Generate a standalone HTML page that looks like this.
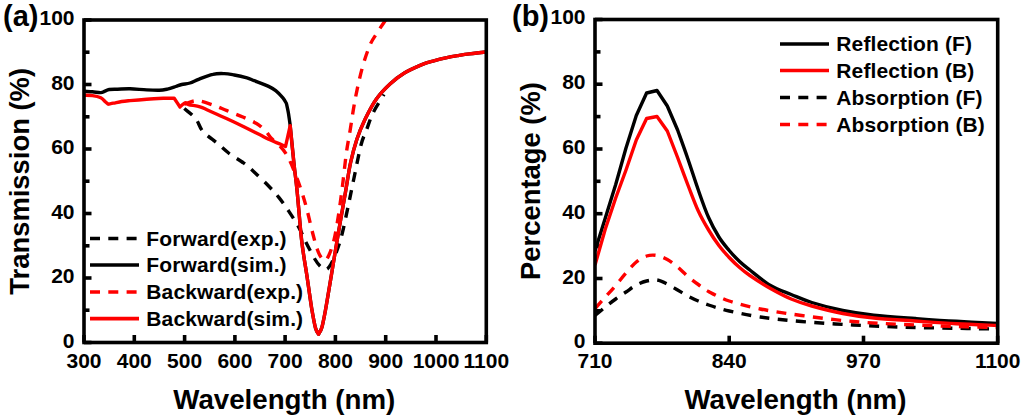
<!DOCTYPE html>
<html><head><meta charset="utf-8"><style>
html,body{margin:0;padding:0;background:#fff;overflow:hidden;}
svg{display:block;}
text{font-family:"Liberation Sans", sans-serif;font-weight:bold;fill:#000;}
</style></head><body>
<svg width="1025" height="420" viewBox="0 0 1025 420">
<defs>
<clipPath id="ca"><rect x="84.0" y="20.0" width="402.3" height="322.5"/></clipPath>
<clipPath id="cb"><rect x="595.0" y="19.5" width="402.7" height="323.7"/></clipPath>
</defs>
<line x1="84.0" y1="342.5" x2="91.5" y2="342.5" stroke="#000" stroke-width="3.6"/>
<text x="74.5" y="347.5" font-size="21" text-anchor="end">0</text>
<line x1="84.0" y1="310.2" x2="89.5" y2="310.2" stroke="#000" stroke-width="3.6"/>
<line x1="84.0" y1="278.0" x2="91.5" y2="278.0" stroke="#000" stroke-width="3.6"/>
<text x="74.5" y="283.0" font-size="21" text-anchor="end">20</text>
<line x1="84.0" y1="245.8" x2="89.5" y2="245.8" stroke="#000" stroke-width="3.6"/>
<line x1="84.0" y1="213.5" x2="91.5" y2="213.5" stroke="#000" stroke-width="3.6"/>
<text x="74.5" y="218.5" font-size="21" text-anchor="end">40</text>
<line x1="84.0" y1="181.2" x2="89.5" y2="181.2" stroke="#000" stroke-width="3.6"/>
<line x1="84.0" y1="149.0" x2="91.5" y2="149.0" stroke="#000" stroke-width="3.6"/>
<text x="74.5" y="154.0" font-size="21" text-anchor="end">60</text>
<line x1="84.0" y1="116.8" x2="89.5" y2="116.8" stroke="#000" stroke-width="3.6"/>
<line x1="84.0" y1="84.5" x2="91.5" y2="84.5" stroke="#000" stroke-width="3.6"/>
<text x="74.5" y="89.5" font-size="21" text-anchor="end">80</text>
<line x1="84.0" y1="52.2" x2="89.5" y2="52.2" stroke="#000" stroke-width="3.6"/>
<line x1="84.0" y1="20.0" x2="91.5" y2="20.0" stroke="#000" stroke-width="3.6"/>
<text x="74.5" y="24.5" font-size="21" text-anchor="end">100</text>
<line x1="84.0" y1="342.5" x2="84.0" y2="335.0" stroke="#000" stroke-width="3.6"/>
<text x="84.0" y="367.5" font-size="21" text-anchor="middle">300</text>
<line x1="134.3" y1="342.5" x2="134.3" y2="335.0" stroke="#000" stroke-width="3.6"/>
<text x="134.3" y="367.5" font-size="21" text-anchor="middle">400</text>
<line x1="184.6" y1="342.5" x2="184.6" y2="335.0" stroke="#000" stroke-width="3.6"/>
<text x="184.6" y="367.5" font-size="21" text-anchor="middle">500</text>
<line x1="234.9" y1="342.5" x2="234.9" y2="335.0" stroke="#000" stroke-width="3.6"/>
<text x="234.9" y="367.5" font-size="21" text-anchor="middle">600</text>
<line x1="285.1" y1="342.5" x2="285.1" y2="335.0" stroke="#000" stroke-width="3.6"/>
<text x="285.1" y="367.5" font-size="21" text-anchor="middle">700</text>
<line x1="335.4" y1="342.5" x2="335.4" y2="335.0" stroke="#000" stroke-width="3.6"/>
<text x="335.4" y="367.5" font-size="21" text-anchor="middle">800</text>
<line x1="385.7" y1="342.5" x2="385.7" y2="335.0" stroke="#000" stroke-width="3.6"/>
<text x="385.7" y="367.5" font-size="21" text-anchor="middle">900</text>
<line x1="436.0" y1="342.5" x2="436.0" y2="335.0" stroke="#000" stroke-width="3.6"/>
<text x="436.0" y="367.5" font-size="21" text-anchor="middle">1000</text>
<line x1="486.3" y1="342.5" x2="486.3" y2="335.0" stroke="#000" stroke-width="3.6"/>
<text x="486.3" y="367.5" font-size="21" text-anchor="middle">1100</text>
<line x1="595.0" y1="343.2" x2="602.5" y2="343.2" stroke="#000" stroke-width="3.6"/>
<text x="585.5" y="348.2" font-size="21" text-anchor="end">0</text>
<line x1="595.0" y1="310.8" x2="600.5" y2="310.8" stroke="#000" stroke-width="3.6"/>
<line x1="595.0" y1="278.5" x2="602.5" y2="278.5" stroke="#000" stroke-width="3.6"/>
<text x="585.5" y="283.5" font-size="21" text-anchor="end">20</text>
<line x1="595.0" y1="246.1" x2="600.5" y2="246.1" stroke="#000" stroke-width="3.6"/>
<line x1="595.0" y1="213.7" x2="602.5" y2="213.7" stroke="#000" stroke-width="3.6"/>
<text x="585.5" y="218.7" font-size="21" text-anchor="end">40</text>
<line x1="595.0" y1="181.3" x2="600.5" y2="181.3" stroke="#000" stroke-width="3.6"/>
<line x1="595.0" y1="149.0" x2="602.5" y2="149.0" stroke="#000" stroke-width="3.6"/>
<text x="585.5" y="154.0" font-size="21" text-anchor="end">60</text>
<line x1="595.0" y1="116.6" x2="600.5" y2="116.6" stroke="#000" stroke-width="3.6"/>
<line x1="595.0" y1="84.2" x2="602.5" y2="84.2" stroke="#000" stroke-width="3.6"/>
<text x="585.5" y="89.2" font-size="21" text-anchor="end">80</text>
<line x1="595.0" y1="51.9" x2="600.5" y2="51.9" stroke="#000" stroke-width="3.6"/>
<line x1="595.0" y1="19.5" x2="602.5" y2="19.5" stroke="#000" stroke-width="3.6"/>
<text x="585.5" y="24.0" font-size="21" text-anchor="end">100</text>
<line x1="595.0" y1="343.2" x2="595.0" y2="335.7" stroke="#000" stroke-width="3.6"/>
<text x="595.0" y="368.2" font-size="21" text-anchor="middle">710</text>
<line x1="729.2" y1="343.2" x2="729.2" y2="335.7" stroke="#000" stroke-width="3.6"/>
<text x="729.2" y="368.2" font-size="21" text-anchor="middle">840</text>
<line x1="863.5" y1="343.2" x2="863.5" y2="335.7" stroke="#000" stroke-width="3.6"/>
<text x="863.5" y="368.2" font-size="21" text-anchor="middle">970</text>
<line x1="997.7" y1="343.2" x2="997.7" y2="335.7" stroke="#000" stroke-width="3.6"/>
<text x="997.7" y="368.2" font-size="21" text-anchor="middle">1100</text>
<path d="M184.3,108.6C186.2,110.3 192.6,114.8 195.7,118.6C198.8,122.4 199.3,127.3 202.9,131.4C206.5,135.5 212.7,139.4 217,143C221.3,146.6 224.5,149.9 228.6,153C232.7,156.1 238.3,159.4 241.4,161.5C244.5,163.6 244.6,163.5 247,165.5C249.4,167.5 252.1,170.1 255.7,173.5C259.3,176.9 264.8,182.1 268.6,186C272.4,189.9 275.4,193.1 278.6,197.1C281.8,201.1 284.7,205 288,210C291.3,215 295.5,221.3 298.6,227C301.7,232.7 304.1,238.7 306.8,244C309.5,249.3 312.6,255.3 314.8,259C317,262.7 318.1,264.2 320,266C321.9,267.8 324.2,269.8 326,269.5C327.8,269.2 329.2,267.1 331,264C332.8,260.9 335,255.9 336.8,251C338.6,246.1 340.1,241.6 342,234.3C343.9,227 346,216.4 348,207C350,197.6 351.8,188.3 354,178C356.2,167.7 358.9,153 361,145C363.1,137 364.5,135.3 366.5,130C368.5,124.7 370.1,118.9 373,113C375.9,107.1 382.2,97.6 384,94.5" fill="none" stroke="#000" stroke-width="3.4" stroke-linejoin="round" stroke-dasharray="10 8.3" clip-path="url(#ca)"/>
<path d="M84,91.3C85.4,91.4 89.7,91.6 92.5,91.8C95.3,92 98.7,92.7 100.8,92.6C102.9,92.5 103.6,91.6 105,91.1C106.4,90.6 107.1,89.8 109.2,89.5C111.3,89.2 114,89.3 117.5,89.2C121,89.1 125.1,88.7 130,88.8C134.9,88.9 141.8,89.7 146.7,89.9C151.6,90.2 155.7,90.4 159.2,90.3C162.7,90.2 164.7,89.7 167.5,89.1C170.3,88.5 173.4,87.3 175.8,86.5C178.2,85.7 179.3,85.1 181.7,84.5C184.1,83.9 187.2,83.9 190,83C192.8,82.1 194.8,80.8 198.6,79.3C202.4,77.8 208.6,75.2 212.9,74.3C217.2,73.3 220.7,73.5 224.3,73.6C227.9,73.7 230.5,74.3 234.3,75C238.1,75.7 243.7,77 247,77.9C250.3,78.9 250.7,79.3 254.3,80.7C257.9,82.1 265,84.7 268.6,86.4C272.2,88.1 273.3,88.8 275.7,90.7C278.1,92.6 281.1,95.8 282.9,97.9C284.7,100 285.8,102.6 286.4,103.5L286.4,103.5C286.8,105.3 288,110.5 288.6,114.3C289.2,118 290,124 290.3,126L290.2,125.7C290.8,132.1 292.9,153.1 294,163.8C295.1,174.5 295.7,177.3 297,190C298.3,202.7 300,225.8 301.6,240C303.2,254.2 305.1,263.7 306.8,275C308.5,286.3 310.2,299.2 311.6,308C313.1,316.8 314.3,323.6 315.5,328C316.7,332.4 318.1,333.2 318.6,334.2L318.6,334.2C319.2,333 320.9,331 322,327C323.1,323 323.9,318.7 325.5,310C327.1,301.3 329.2,288.2 331.4,275C333.6,261.8 336.3,244.8 338.7,231C341.1,217.2 343.5,203.3 345.5,192C347.5,180.7 348.6,171.8 350.5,163C352.4,154.2 354.4,146.8 356.8,139.5C359.2,132.2 361.9,125.8 365.2,119C368.5,112.2 372.3,104.8 376.4,99C380.5,93.2 385.4,88.3 390,84C394.6,79.7 398.7,76.4 404,73.2C409.3,70 416.9,66.7 421.9,64.6C426.9,62.5 429.8,61.9 433.8,60.8C437.8,59.7 441.7,58.7 445.7,57.8C449.7,56.9 453.6,56.2 457.6,55.6C461.6,55 464.8,54.5 469.5,53.9C474.2,53.3 483.2,52.3 486,52" fill="none" stroke="#000" stroke-width="3.4" stroke-linejoin="round" clip-path="url(#ca)"/>
<path d="M184.3,104.3C186.4,103.7 192.2,100.6 197,100.7C201.8,100.8 207.9,103.3 212.9,105C217.9,106.7 222,108.7 227,110.7C232,112.7 238,114.9 242.9,117C247.8,119.1 252.7,121.2 256.5,123.5C260.3,125.8 263,128.5 265.5,131C268,133.5 269.2,136.1 271.5,138.5C273.8,140.9 277,142.9 279.5,145.5C282,148.1 284.1,150.6 286.4,154.3C288.6,158.1 290.8,162.7 293,168C295.2,173.3 297.6,179.7 299.8,186C302,192.3 303.8,198 306,206C308.2,214 311,226.7 312.9,234C314.8,241.3 316.1,246 317.5,250C318.9,254 320.2,256.2 321.5,258C322.8,259.8 323.8,261 325,260.5C326.2,260 327.5,258.4 329,255C330.5,251.6 332.4,246.7 334,240C335.6,233.3 337.1,224.2 338.5,215C339.9,205.8 341.3,195.5 342.6,185C343.9,174.5 345.2,161.2 346.5,152C347.8,142.8 348.7,139.2 350.2,130C351.7,120.8 353.6,107 355.7,96.5C357.8,86 360.1,75.6 362.5,67C364.9,58.4 367.6,50.7 370,45C372.4,39.3 374.2,37.5 377,33C379.8,28.5 385.3,20.5 387,18" fill="none" stroke="#f00" stroke-width="3.4" stroke-linejoin="round" stroke-dasharray="10 8.3" clip-path="url(#ca)"/>
<path d="M84,95.2C85.4,95.3 89.7,95.2 92.5,95.6C95.3,96 98.7,96.8 100.8,97.8C102.9,98.8 103.8,100.4 105,101.5C106.2,102.6 107.8,103.8 108.3,104.2L108.3,104.2C109.1,104 111.1,103.7 113.3,103.2C115.5,102.8 118.9,101.9 121.7,101.5C124.5,101.1 125.8,101 130,100.6C134.2,100.2 141.1,99.6 146.7,99.2C152.2,98.8 158.7,98.5 163.3,98.3C167.9,98.1 172.4,98.2 174.2,98.2L174.2,98.2C175.2,99.7 179,105.5 180,107L180,107C180.8,106.3 183.6,103.2 185,102.8C186.4,102.4 186,103.8 188.5,104.5C191,105.2 196.7,105.8 200,106.8C203.3,107.8 204.1,108.5 208.6,110.5C213.1,112.5 221.1,116 227,118.8C232.9,121.5 238.8,124.3 244.3,127C249.8,129.7 255.9,132.8 260,134.8C264.1,136.9 265.2,137.7 268.6,139.3C272.1,140.9 277.9,143.1 280.7,144.3C283.5,145.5 284.7,146.1 285.5,146.5L285.5,146.5C286.3,143 289.4,129.2 290.2,125.7L290.2,125.7C290.8,132.1 292.9,153.1 294,163.8C295.1,174.5 295.7,177.3 297,190C298.3,202.7 300,225.8 301.6,240C303.2,254.2 305.1,263.7 306.8,275C308.5,286.3 310.2,299.2 311.6,308C313.1,316.8 314.3,323.6 315.5,328C316.7,332.4 318.1,333.2 318.6,334.2L318.6,334.2C319.2,333 320.9,331 322,327C323.1,323 323.9,318.7 325.5,310C327.1,301.3 329.2,288.2 331.4,275C333.6,261.8 336.3,244.8 338.7,231C341.1,217.2 343.5,203.3 345.5,192C347.5,180.7 348.6,171.8 350.5,163C352.4,154.2 354.4,146.8 356.8,139.5C359.2,132.2 361.9,125.8 365.2,119C368.5,112.2 372.3,104.8 376.4,99C380.5,93.2 385.4,88.3 390,84C394.6,79.7 398.7,76.4 404,73.2C409.3,70 416.9,66.7 421.9,64.6C426.9,62.5 429.8,61.9 433.8,60.8C437.8,59.7 441.7,58.7 445.7,57.8C449.7,56.9 453.6,56.2 457.6,55.6C461.6,55 464.8,54.5 469.5,53.9C474.2,53.3 483.2,52.3 486,52" fill="none" stroke="#f00" stroke-width="3.4" stroke-linejoin="round" clip-path="url(#ca)"/>
<path d="M595,315.5C596.7,314.1 601.9,309.8 605.3,307C608.8,304.2 612.2,301.5 615.7,299C619.1,296.5 622.5,294.3 626,292C629.4,289.7 632.9,286.8 636.3,285C639.7,283.2 643.2,281.8 646.6,281C650.1,280.2 653.5,279.5 657,280C660.4,280.5 663.8,282.3 667.3,284C670.7,285.7 674.2,288 677.6,290C681,292 684.5,294.2 687.9,296C691.4,297.8 694.8,299.5 698.3,301C701.7,302.5 703.4,303.3 708.6,305C713.7,306.7 720.6,309 729.2,311C737.8,313 748.2,315.2 760.2,317C772.3,318.8 786,320.2 801.5,321.5C817,322.8 835.9,324.1 853.1,325C870.4,325.9 887.6,326.6 904.8,327.2C922,327.8 940.9,328 956.4,328.3C971.9,328.6 990.8,328.9 997.7,329" fill="none" stroke="#000" stroke-width="3.4" stroke-linejoin="round" stroke-dasharray="10 8.3" clip-path="url(#cb)"/>
<path d="M595,308.5C596.7,306.6 601.9,300.8 605.3,297C608.8,293.2 612.2,289.5 615.7,285.5C619.1,281.5 622.5,276.9 626,273C629.4,269.1 632.9,264.8 636.3,262C639.7,259.2 643.2,257.1 646.6,256C650.1,254.9 653.5,254.9 657,255.5C660.4,256.1 663.8,257.6 667.3,259.5C670.7,261.4 674.2,264.2 677.6,267C681,269.8 684.5,273.6 687.9,276.5C691.4,279.4 694.8,282 698.3,284.5C701.7,287 703.4,288.8 708.6,291.5C713.7,294.2 720.6,298.1 729.2,301C737.8,303.9 748.2,306.6 760.2,309C772.3,311.4 786,313.4 801.5,315.5C817,317.6 835.9,320 853.1,321.5C870.4,323 887.6,323.7 904.8,324.5C922,325.3 940.9,326 956.4,326.5C971.9,327 990.8,327.3 997.7,327.5" fill="none" stroke="#f00" stroke-width="3.4" stroke-linejoin="round" stroke-dasharray="10 8.3" clip-path="url(#cb)"/>
<path d="M595,251 L605.3,218 L615.7,184.5 L626,148 L636.3,115.5 L646.6,93 L657,90.5 L667.3,106 L677.6,130L677.6,130C679.3,134.8 684.5,149 687.9,159C691.4,169 694.8,180.2 698.3,190C701.7,199.8 705.1,209.7 708.6,217.5C712,225.3 715.5,231.5 718.9,237C722.3,242.5 725.8,246.4 729.2,250.5C732.7,254.6 736.1,258.2 739.6,261.5C743,264.8 744.7,266 749.9,270C755,274 763.7,281.4 770.5,285.5C777.4,289.6 784.3,291.7 791.2,294.5C798.1,297.3 803.2,299.8 811.8,302.5C820.4,305.2 832.5,308.4 842.8,310.5C853.1,312.6 861.7,313.9 873.8,315.2C885.8,316.5 901.3,317.5 915.1,318.5C928.9,319.5 942.6,320.5 956.4,321.3C970.2,322.1 990.8,323.1 997.7,323.5" fill="none" stroke="#000" stroke-width="3.4" stroke-linejoin="round" clip-path="url(#cb)"/>
<path d="M595,265 L605.3,229 L615.7,198 L626,170 L636.3,140 L646.6,118.5 L657,116.5 L667.3,131 L677.6,157.5L677.6,157.5C679.3,162.1 684.5,176.1 687.9,185C691.4,193.9 694.8,203.5 698.3,211C701.7,218.5 705.1,224.2 708.6,230C712,235.8 715.5,240.9 718.9,245.5C722.3,250.1 725.8,253.8 729.2,257.5C732.7,261.2 736.1,264.5 739.6,267.5C743,270.5 744.7,272 749.9,275.5C755,279 763.7,284.6 770.5,288.5C777.4,292.4 784.3,296.1 791.2,299C798.1,301.9 803.2,303.6 811.8,306C820.4,308.4 832.5,311.5 842.8,313.5C853.1,315.5 861.7,316.8 873.8,318C885.8,319.2 901.3,320 915.1,321C928.9,322 942.6,323.1 956.4,323.8C970.2,324.6 990.8,325.2 997.7,325.5" fill="none" stroke="#f00" stroke-width="3.4" stroke-linejoin="round" clip-path="url(#cb)"/>
<rect x="84.0" y="20.0" width="402.3" height="322.5" fill="none" stroke="#000" stroke-width="3.6"/>
<rect x="595.0" y="19.5" width="402.7" height="323.7" fill="none" stroke="#000" stroke-width="3.6"/>
<line x1="90" y1="238.5" x2="139" y2="238.5" stroke="#000" stroke-width="3.6" stroke-dasharray="10 8.3"/>
<text x="146.3" y="245.8" font-size="21" letter-spacing="0.12">Forward(exp.)</text>
<line x1="90" y1="265" x2="139" y2="265" stroke="#000" stroke-width="3.6"/>
<text x="146.3" y="272.3" font-size="21" letter-spacing="0.12">Forward(sim.)</text>
<line x1="90" y1="292" x2="139" y2="292" stroke="#f00" stroke-width="3.6" stroke-dasharray="10 8.3"/>
<text x="146.3" y="299.3" font-size="21" letter-spacing="0.12">Backward(exp.)</text>
<line x1="90" y1="318.6" x2="139" y2="318.6" stroke="#f00" stroke-width="3.6"/>
<text x="146.3" y="325.9" font-size="21" letter-spacing="0.12">Backward(sim.)</text>
<line x1="780" y1="44" x2="829" y2="44" stroke="#000" stroke-width="3.6"/>
<text x="836.3" y="51.3" font-size="21" letter-spacing="0.12">Reflection (F)</text>
<line x1="780" y1="70.5" x2="829" y2="70.5" stroke="#f00" stroke-width="3.6"/>
<text x="836.3" y="77.8" font-size="21" letter-spacing="0.12">Reflection (B)</text>
<line x1="780" y1="97.5" x2="829" y2="97.5" stroke="#000" stroke-width="3.6" stroke-dasharray="10 8.3"/>
<text x="836.3" y="104.8" font-size="21" letter-spacing="0.12">Absorption (F)</text>
<line x1="780" y1="124.5" x2="829" y2="124.5" stroke="#f00" stroke-width="3.6" stroke-dasharray="10 8.3"/>
<text x="836.3" y="131.8" font-size="21" letter-spacing="0.12">Absorption (B)</text>
<text x="284.3" y="409.3" font-size="27.7" text-anchor="middle">Wavelength (nm)</text>
<text x="795.4" y="409.3" font-size="27.7" text-anchor="middle">Wavelength (nm)</text>
<text transform="translate(28.5,181.3) rotate(-90)" font-size="27.4" text-anchor="middle">Transmission (%)</text>
<text transform="translate(540,181) rotate(-90)" font-size="27.4" text-anchor="middle">Percentage (%)</text>
<text x="3" y="26" font-size="29">(a)</text>
<text x="512" y="26" font-size="29">(b)</text>
</svg></body></html>
